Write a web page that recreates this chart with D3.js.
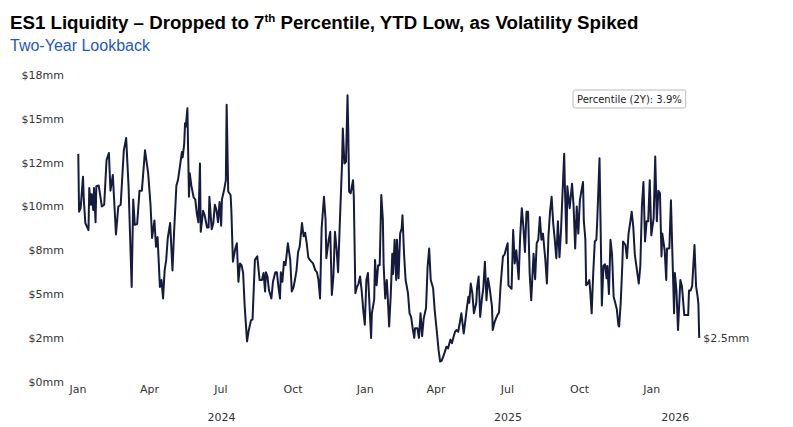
<!DOCTYPE html>
<html>
<head>
<meta charset="utf-8">
<script src="https://cdn.jsdelivr.net/npm/d3@7"></script>
<style>
body { margin:0; background:#fff; }
</style>
</head>
<body>
<div id="chart"></div>
<script>

//******************************************************************************
//**  Data
//******************************************************************************
var dates = [
"2024-01-02","2024-01-03","2024-01-05","2024-01-08","2024-01-09","2024-01-11","2024-01-15","2024-01-16","2024-01-18","2024-01-19","2024-01-21","2024-01-22","2024-01-24","2024-01-25","2024-01-28",
"2024-02-01","2024-02-04","2024-02-07","2024-02-10","2024-02-12","2024-02-15","2024-02-19","2024-02-22","2024-02-25","2024-02-29",
"2024-03-03","2024-03-06","2024-03-10","2024-03-12","2024-03-14","2024-03-17","2024-03-20","2024-03-23","2024-03-27","2024-03-31",
"2024-04-03","2024-04-05","2024-04-08","2024-04-10","2024-04-12","2024-04-15","2024-04-17","2024-04-19","2024-04-21","2024-04-23","2024-04-25","2024-04-28",
"2024-05-01","2024-05-03","2024-05-06","2024-05-08","2024-05-11","2024-05-13","2024-05-14","2024-05-16","2024-05-17","2024-05-18","2024-05-20","2024-05-22","2024-05-23","2024-05-25","2024-05-28","2024-05-30",
"2024-06-01","2024-06-03","2024-06-05","2024-06-06","2024-06-09","2024-06-11","2024-06-14","2024-06-16","2024-06-17","2024-06-20","2024-06-22","2024-06-24","2024-06-26","2024-06-28","2024-06-30",
"2024-07-02","2024-07-03","2024-07-06","2024-07-08","2024-07-09","2024-07-11","2024-07-14","2024-07-15","2024-07-17","2024-07-20","2024-07-22","2024-07-24","2024-07-26","2024-07-28","2024-07-30",
"2024-08-01","2024-08-04","2024-08-06","2024-08-09","2024-08-11","2024-08-14","2024-08-17","2024-08-20","2024-08-23","2024-08-25","2024-08-27","2024-08-28","2024-08-30",
"2024-09-01","2024-09-04","2024-09-06","2024-09-09","2024-09-11","2024-09-13","2024-09-15","2024-09-16","2024-09-18","2024-09-20","2024-09-22","2024-09-25","2024-09-28","2024-09-30",
"2024-10-02","2024-10-04","2024-10-06","2024-10-08","2024-10-10","2024-10-13","2024-10-15","2024-10-17","2024-10-19","2024-10-21","2024-10-23","2024-10-25","2024-10-27","2024-10-30",
"2024-11-01","2024-11-03","2024-11-05","2024-11-07","2024-11-10","2024-11-12","2024-11-13","2024-11-16","2024-11-18","2024-11-20","2024-11-22","2024-11-24","2024-11-26","2024-11-28","2024-11-30",
"2024-12-03","2024-12-04","2024-12-06","2024-12-08","2024-12-10","2024-12-11","2024-12-12","2024-12-14","2024-12-17","2024-12-18","2024-12-20","2024-12-22","2024-12-24","2024-12-26","2024-12-28","2024-12-30",
"2025-01-01","2025-01-03","2025-01-05","2025-01-09","2025-01-10","2025-01-13","2025-01-14","2025-01-16","2025-01-18","2025-01-20","2025-01-22","2025-01-24","2025-01-25","2025-01-27","2025-01-29","2025-01-30",
"2025-02-01","2025-02-03","2025-02-05","2025-02-06","2025-02-08","2025-02-10","2025-02-11","2025-02-13","2025-02-15","2025-02-17","2025-02-18","2025-02-20","2025-02-22","2025-02-25","2025-02-27",
"2025-03-01","2025-03-03","2025-03-05","2025-03-06","2025-03-09","2025-03-11","2025-03-13","2025-03-15","2025-03-17","2025-03-20","2025-03-22","2025-03-24","2025-03-26","2025-03-29","2025-03-31",
"2025-04-03","2025-04-05","2025-04-07","2025-04-09","2025-04-11","2025-04-13","2025-04-15","2025-04-17","2025-04-20","2025-04-22","2025-04-24","2025-04-26","2025-04-28","2025-04-30",
"2025-05-02","2025-05-04","2025-05-07","2025-05-09","2025-05-11","2025-05-13","2025-05-14","2025-05-16","2025-05-18","2025-05-20","2025-05-23","2025-05-24","2025-05-26","2025-05-28","2025-05-30",
"2025-06-01","2025-06-03","2025-06-05","2025-06-07","2025-06-09","2025-06-12","2025-06-13","2025-06-15","2025-06-17","2025-06-19","2025-06-21","2025-06-23","2025-06-26","2025-06-28","2025-06-30",
"2025-07-02","2025-07-03","2025-07-05","2025-07-07","2025-07-09","2025-07-11","2025-07-13","2025-07-16","2025-07-18","2025-07-20","2025-07-22","2025-07-24","2025-07-26","2025-07-28","2025-07-30",
"2025-08-01","2025-08-04","2025-08-06","2025-08-08","2025-08-10","2025-08-12","2025-08-14","2025-08-16","2025-08-19","2025-08-21","2025-08-23","2025-08-25","2025-08-27","2025-08-29","2025-08-31",
"2025-09-02","2025-09-04","2025-09-06","2025-09-08","2025-09-09","2025-09-12","2025-09-13","2025-09-15","2025-09-16","2025-09-19","2025-09-22","2025-09-24","2025-09-26","2025-09-28","2025-09-30",
"2025-10-02","2025-10-04","2025-10-06","2025-10-07","2025-10-09","2025-10-10","2025-10-12","2025-10-14","2025-10-15","2025-10-17","2025-10-19","2025-10-21","2025-10-23","2025-10-24","2025-10-27","2025-10-30",
"2025-11-01","2025-11-03","2025-11-05","2025-11-06","2025-11-08","2025-11-10","2025-11-12","2025-11-14","2025-11-16","2025-11-18","2025-11-20","2025-11-21","2025-11-23","2025-11-25","2025-11-26","2025-11-29",
"2025-12-01","2025-12-03","2025-12-05","2025-12-07","2025-12-09","2025-12-11","2025-12-13","2025-12-16","2025-12-18","2025-12-20","2025-12-22","2025-12-24","2025-12-26","2025-12-28","2025-12-30",
"2026-01-01","2026-01-04","2026-01-06","2026-01-08","2026-01-10","2026-01-12","2026-01-14","2026-01-15","2026-01-18","2026-01-20","2026-01-21","2026-01-24","2026-01-26","2026-01-28","2026-01-30","2026-01-31",
"2026-02-02","2026-02-04","2026-02-06","2026-02-07","2026-02-09","2026-02-12","2026-02-14","2026-02-17","2026-02-18","2026-02-20","2026-02-22","2026-02-25","2026-02-27",
"2026-03-01","2026-03-02","2026-03-03"
];

//liquidity in $mm, same order as dates
var liquidity = [
13.0,9.7,9.9,11.7,10.4,9.05,8.65,11.05,10.1,10.7,9.8,11.05,9.1,11.15,11.2,
10.0,10.1,12.65,13.05,10.9,11.8,8.4,10.0,10.1,13.2,
13.9,11.2,5.4,10.4,8.95,9.0,10.9,10.9,13.2,11.9,
10.1,8.2,9.2,7.7,8.25,5.4,5.8,4.75,6.35,6.95,8.2,9.05,
6.35,8.5,11.2,11.5,12.45,13.1,12.8,13.6,14.75,14.55,15.6,10.55,11.9,11.2,10.5,10.4,
9.6,9.1,12.45,8.55,9.75,9.5,8.8,8.8,10.55,8.7,9.05,10.1,9.8,9.1,10.25,
8.9,10.4,11.0,11.5,15.8,10.85,10.65,9.8,6.85,7.6,7.9,5.7,6.75,6.65,6.2,
4.3,2.3,2.9,3.5,3.55,6.95,7.15,5.8,5.8,6.2,5.15,6.25,6.0,
5.2,4.75,5.7,6.25,6.25,5.4,4.75,6.25,5.7,6.85,6.65,7.9,6.95,5.15,
5.35,5.8,6.35,7.4,7.7,9.05,8.3,8.5,7.9,7.1,6.95,6.85,6.75,6.35,
6.25,5.8,4.75,8.75,10.55,9.25,7.05,8.1,8.55,4.95,6.0,8.55,7.6,6.25,8.85,
12.45,14.45,12.45,12.55,16.35,14.15,10.85,10.75,11.5,10.55,5.05,5.4,5.6,6.0,5.2,4.1,
3.25,5.8,6.2,2.5,3.9,4.7,6.95,5.5,6.65,6.65,10.65,9.25,6.65,4.75,5.8,5.05,
3.15,4.9,7.3,6.15,8.1,5.8,8.1,5.9,8.45,8.75,9.5,7.3,5.8,5.05,3.9,
3.7,3.05,2.5,3.05,3.05,2.5,3.9,2.6,3.6,4.2,6.55,7.6,5.8,5.35,4.1,
2.75,1.8,1.15,1.2,1.45,1.7,2.0,1.9,2.4,2.2,2.55,2.85,2.95,2.85,
3.35,3.9,2.75,3.45,4.2,4.85,4.5,5.6,5.05,3.9,4.5,5.35,6.0,3.7,4.65,
5.35,6.85,4.65,5.9,5.35,4.3,2.95,3.35,3.6,3.8,3.95,5.5,7.15,7.25,7.6,
7.9,5.5,5.4,5.3,8.65,6.75,7.5,5.85,8.35,9.9,8.85,7.4,9.7,9.7,6.2,
4.65,7.3,5.85,7.9,8.1,9.4,8.1,8.45,6.95,5.6,8.35,9.7,10.55,9.05,8.1,
7.05,9.15,7.1,8.65,9.8,13.0,10.95,7.9,11.15,9.9,11.3,10.0,7.6,10.0,8.45,
10.35,10.9,11.4,9.2,8.1,5.5,5.6,5.8,5.3,3.9,6.2,8.0,8.1,9.05,12.75,4.35,
6.6,6.7,5.9,6.6,5.0,8.1,7.25,4.85,4.5,4.15,3.25,3.15,4.5,6.6,8.0,7.8,
7.05,8.45,9.05,9.7,8.85,7.25,6.6,5.6,6.6,10.0,11.4,8.0,9.15,9.15,11.5,
8.35,9.35,12.85,9.15,10.9,10.75,7.15,8.45,7.5,5.8,7.6,7.6,10.35,7.05,3.9,6.2,
5.2,2.95,4.85,5.8,5.45,3.8,3.8,3.8,5.2,5.2,5.45,7.8,5.45,
4.85,4.4,2.5
];

var yTicks = [0, 2.5, 5, 7.5, 10, 12.5, 15, 17.5];
var yTickLabels = ["$0mm","$2mm","$5mm","$8mm","$10mm","$12mm","$15mm","$18mm"];
var monthTicks = ["2024-01-01","2024-04-01","2024-07-01","2024-10-01","2025-01-01","2025-04-01","2025-07-01","2025-10-01","2026-01-01"];
var years = ["2024","2025","2026"];
var percentileLabel = "Percentile (2Y): 3.9%";
var endLabel = "$2.5mm";


//******************************************************************************
//**  Chart
//******************************************************************************
var width = 793, height = 427;
var tickFont = "'DejaVu Sans', Verdana, sans-serif";
var lineColor = "#141b3f";
var textColor = "#333";

if (dates.length !== liquidity.length) console.warn("dates/values mismatch", dates.length, liquidity.length);

var parse = d3.utcParse("%Y-%m-%d");
var data = dates.map(function(d, i){ return {date: parse(d), value: liquidity[i]}; });

var svg = d3.select("#chart").append("svg")
    .attr("width", width)
    .attr("height", height)
    .style("display", "block");

svg.append("rect").attr("width", width).attr("height", height).attr("fill", "#fff");

var x = d3.scaleUtc()
    .domain([parse("2024-01-01"), parse("2026-03-03")])
    .range([77.5, 699.2]);

var y = d3.scaleLinear()
    .domain([0, 17.5])
    .range([381.7, 75]);


//**************************************************************************
//** Title
//**************************************************************************
var title = svg.append("text")
    .attr("x", 10)
    .attr("y", 29)
    .style("font-family", "'Liberation Sans', Arial, sans-serif")
    .style("font-weight", "bold")
    .style("font-size", "18.7px")
    .attr("fill", "#000");
title.append("tspan").text("ES1 Liquidity \u2013 Dropped to 7");
title.append("tspan").text("th").style("font-size", "11.5px").attr("dy", -7);
title.append("tspan").text(" Percentile, YTD Low, as Volatility Spiked").attr("dy", 7);

svg.append("text")
    .attr("x", 10)
    .attr("y", 51)
    .style("font-family", "'Liberation Sans', Arial, sans-serif")
    .style("font-size", "16px")
    .attr("fill", "#1f58c4")
    .text("Two-Year Lookback");


//**************************************************************************
//** Axes
//**************************************************************************
var yAxis = svg.append("g")
    .attr("transform", "translate(68,0)")
    .call(d3.axisLeft(y).tickValues(yTicks).tickSize(0).tickPadding(4)
        .tickFormat(function(d, i){ return yTickLabels[i]; }));
yAxis.select(".domain").remove();
yAxis.selectAll("text")
    .style("font-family", tickFont)
    .style("font-size", "11px")
    .attr("fill", textColor);

var xAxis = svg.append("g")
    .attr("transform", "translate(0,385)")
    .call(d3.axisBottom(x).tickValues(monthTicks.map(parse)).tickSize(0).tickPadding(0)
        .tickFormat(d3.utcFormat("%b")));
xAxis.select(".domain").remove();
xAxis.selectAll("text")
    .style("font-family", tickFont)
    .style("font-size", "11px")
    .attr("fill", textColor);

//year labels centered on the part of each year that has data
var first = data[0].date, last = data[data.length-1].date;
years.forEach(function(yr){
    var start = parse(yr + "-01-01");
    var end = parse((+yr + 1) + "-01-01");
    var a = start < first ? first : start;
    var b = end > last ? last : end;
    svg.append("text")
        .attr("x", (x(a) + x(b)) / 2)
        .attr("y", 421)
        .attr("text-anchor", "middle")
        .style("font-family", tickFont)
        .style("font-size", "11px")
        .attr("fill", textColor)
        .text(yr);
});


//**************************************************************************
//** Line
//**************************************************************************
var line = d3.line()
    .x(function(d){ return x(d.date); })
    .y(function(d){ return y(d.value); });

svg.append("path")
    .datum(data)
    .attr("d", line)
    .attr("fill", "none")
    .attr("stroke", lineColor)
    .attr("stroke-width", 2)
    .attr("stroke-linejoin", "round");

var lastPoint = data[data.length-1];
svg.append("text")
    .attr("x", x(lastPoint.date) + 4)
    .attr("y", y(lastPoint.value))
    .attr("dy", "0.35em")
    .style("font-family", tickFont)
    .style("font-size", "11px")
    .attr("fill", textColor)
    .text(endLabel);


//**************************************************************************
//** Percentile box
//**************************************************************************
var box = svg.append("g").attr("transform", "translate(573,90)");
var boxText = box.append("text")
    .attr("x", 4)
    .attr("y", 13)
    .style("font-family", tickFont)
    .style("font-size", "10px")
    .attr("fill", "#222")
    .text(percentileLabel);
var bw = boxText.node().getComputedTextLength() + 8;
box.insert("rect", "text")
    .attr("width", bw)
    .attr("height", 18)
    .attr("rx", 2)
    .attr("fill", "#fff")
    .attr("stroke", "#bbb");

</script>
</body>
</html>
